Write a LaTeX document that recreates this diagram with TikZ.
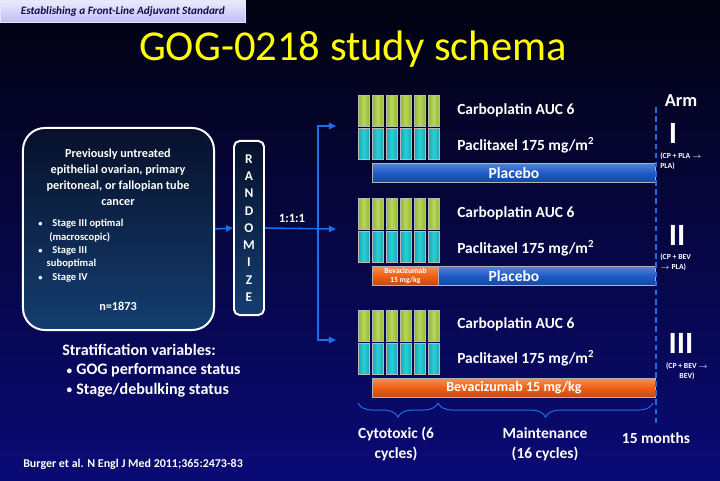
\documentclass[tikz,border=0pt]{standalone}
\usepackage{fontspec}
\setmainfont{Carlito}
\usepackage{tikz}
\usetikzlibrary{arrows.meta}
\usetikzlibrary{calc}
\usetikzlibrary{positioning}
\usetikzlibrary{decorations.pathreplacing}
\definecolor{slidetop}{RGB}{2,2,16}
\definecolor{slidebottom}{RGB}{10,10,118}
\definecolor{titleyellow}{RGB}{255,255,0}
\definecolor{armblue}{RGB}{30,110,235}
\definecolor{placeboblue}{RGB}{30,90,200}
\definecolor{bevorange}{RGB}{240,95,20}
\definecolor{carbogreen}{RGB}{165,205,55}
\definecolor{taxteal}{RGB}{45,195,205}
\definecolor{tablavender}{RGB}{190,190,245}
\definecolor{tabtext}{RGB}{15,15,80}
\definecolor{boxtop}{RGB}{7,16,42}
\definecolor{boxbottom}{RGB}{20,62,112}
\newcommand{\fsz}[1]{\fontsize{#1}{1.2\dimexpr#1pt\relax}\selectfont}
\newcommand{\smallbullet}{{\fontsize{6}{6}\selectfont\textbullet}}

\begin{document}
\begin{tikzpicture}[
    x=0.025cm, y=-0.025cm,
    every node/.style={text=white, font=\bfseries, inner sep=0pt},
    tab box/.style={anchor=north west, minimum width=6.125cm, minimum height=0.55cm,
        top color=white!70!tablavender, bottom color=tablavender, draw=white!60!tablavender,
        text=tabtext, font=\bfseries\itshape\fsz{8}},
    title text/.style={text=titleyellow, font=\fsz{30.3}},
    dark box/.style={draw=white, line width=1.4pt, top color=boxtop, bottom color=boxbottom},
    arrow line/.style={armblue, line width=1.1pt, -{Triangle[length=5pt, width=4.5pt]}},
    green vial/.style={left color=carbogreen!88!black, right color=carbogreen!90!black,
        middle color=carbogreen!80!white, draw=gray!55, line width=0.4pt},
    teal vial/.style={left color=taxteal!82!black, right color=taxteal!85!black,
        middle color=taxteal!75!cyan, draw=gray!55, line width=0.4pt},
    placebo bar/.style={anchor=north west, minimum width=7.075cm, minimum height=0.475cm,
        top color=placeboblue!75!white, bottom color=placeboblue!80!black,
        middle color=placeboblue, draw=gray!60, line width=0.5pt, font=\bfseries\fsz{11}},
    bev bar/.style={anchor=north west, minimum height=0.475cm,
        top color=bevorange!70!white, bottom color=bevorange!80!black,
        middle color=bevorange, draw=gray!60, line width=0.5pt},
    drug text/.style={anchor=west, font=\bfseries\fsz{11}},
    arm numeral/.style={font=\bfseries\fsz{22}},
    arm note/.style={anchor=north west, align=left, font=\bfseries\fsz{5.5}},
    end line/.style={armblue, line width=1.4pt, dash pattern=on 4pt off 2.5pt},
    phase brace/.style={armblue, line width=0.7pt, decorate,
        decoration={brace, amplitude=10pt}},
    phase text/.style={align=center, font=\bfseries\fsz{11}}
    ]

    % slide background
    \fill[top color=slidetop, bottom color=slidebottom] (0,0) rectangle (720,480);
    \useasboundingbox (0,0) rectangle (720,480);

    % header
    \node[tab box] (tab) at (0,0) {Establishing a Front-Line Adjuvant Standard};
    \node[title text] (title) at (353,49) {GOG-0218 study schema};

    % eligible patients
    \node[dark box, rounded corners=0.55cm, minimum width=4.775cm, minimum height=5.05cm]
        (patients) at (118.5,229) {};
    \node[align=center, font=\bfseries\fsz{8.7}] (criteria) at (118,177)
        {Previously untreated\\[1pt]epithelial ovarian, primary\\[1pt]peritoneal, or fallopian tube\\[1pt]cancer};
    \node[anchor=north west, align=left, font=\bfseries\fsz{7.5}] (stages) at (38,219)
        {\makebox[10pt][l]{\smallbullet}Stage III optimal\\[0.5pt]
         \hspace{7.8pt}(macroscopic)\\[0.5pt]
         \makebox[10pt][l]{\smallbullet}Stage III\\[0.5pt]
         \hspace{6pt}suboptimal\\[0.5pt]
         \makebox[10pt][l]{\smallbullet}Stage IV};
    \node[font=\bfseries\fsz{8.7}] (nsize) at (118,306) {n=1873};

    % randomisation
    \node[dark box, rounded corners=4pt, minimum width=0.75cm, minimum height=4.35cm,
        align=center, font=\bfseries\fsz{9.5}] (rand) at (249,228)
        {R\\[0.9pt]A\\[0.9pt]N\\[0.9pt]D\\[0.9pt]O\\[0.9pt]M\\[0.9pt]I\\[0.9pt]Z\\[0.9pt]E};
    \node[font=\bfseries\fsz{9}] (ratio) at (292,218) {1:1:1};

    \coordinate (split) at (318,229);
    \coordinate (armI-in) at (336,126);
    \coordinate (armII-in) at (336,229);
    \coordinate (armIII-in) at (336,340);
    \draw[arrow line] (patients.east) -- (rand.west);
    \draw[arrow line] (rand.east) -- (armII-in);
    \draw[arrow line] (split) |- (armI-in);
    \draw[arrow line] (split) |- (armIII-in);

    % chemotherapy cycles
    \foreach \top in {95,198,310}{
        \foreach \i in {0,...,5}{
            \path[green vial] ({358+14*\i},\top) rectangle +(11,31);
            \path[teal vial] ({358+14*\i},\top+33) rectangle +(11,31);
        }
    }

    % arm I
    \node[drug text] (carboI) at (457,110) {Carboplatin AUC 6};
    \node[drug text] (taxI) at (457,145) {Paclitaxel 175 mg/m\textsuperscript{2}};
    \node[placebo bar] (barI) at (372,163) {Placebo};

    % arm II
    \node[drug text] (carboII) at (457,213) {Carboplatin AUC 6};
    \node[drug text] (taxII) at (457,248) {Paclitaxel 175 mg/m\textsuperscript{2}};
    \node[placebo bar] (barII) at (372,266) {Placebo};
    \node[bev bar, minimum width=1.65cm, align=center, font=\bfseries\fsz{5.5}]
        (bevII) at (372,266) {Bevacizumab\\[-0.5pt]15 mg/kg};

    % arm III
    \node[drug text] (carboIII) at (457,324) {Carboplatin AUC 6};
    \node[drug text] (taxIII) at (457,358) {Paclitaxel 175 mg/m\textsuperscript{2}};
    \node[bev bar, minimum width=7.075cm, font=\bfseries\fsz{10}] (barIII) at (372,378)
        {Bevacizumab 15 mg/kg};

    % 15 month mark
    \coordinate (end-top) at (656,107);
    \coordinate (end-bottom) at (656,425);
    \draw[end line] (end-top) -- (end-bottom);

    % arm labels
    \node[font=\bfseries\fsz{13}] (armhead) at (681,101) {Arm};
    \node[arm numeral] (armI) at (673,133) {I};
    \node[arm note] (noteI) at (660,152) {(CP + PLA $\rightarrow$\\[1pt]PLA)};
    \node[arm numeral] (armII) at (677,235) {II};
    \node[arm note] (noteII) at (660,253) {(CP + BEV\\[1pt]$\rightarrow$ PLA)};
    \node[arm numeral] (armIII) at (681,343) {III};
    \node[arm note, anchor=north, align=center] (noteIII) at (687,362) {(CP + BEV $\rightarrow$\\[1pt]BEV)};

    % treatment phases
    \coordinate (cyto-left) at (358,403);
    \coordinate (cyto-right) at (438,403);
    \coordinate (maint-right) at (653,403);
    \draw[phase brace] (cyto-right) -- (cyto-left);
    \draw[phase brace] (maint-right) -- (cyto-right);
    \node[phase text] (cyto) at (396,444) {Cytotoxic (6\\[1pt]cycles)};
    \node[phase text] (maint) at (545,444) {Maintenance\\[1pt](16 cycles)};
    \node[phase text] (months) at (656,438) {15 months};

    % stratification and reference
    \node[anchor=north west, align=left, font=\bfseries\fsz{11.4}] (strat) at (62,344)
        {Stratification variables:\\[0pt]
         \hspace{3pt}\makebox[7pt][l]{\raisebox{0.5pt}{\fsz{8}\textbullet}}GOG performance status\\[0pt]
         \hspace{3pt}\makebox[7pt][l]{\raisebox{0.5pt}{\fsz{8}\textbullet}}Stage/debulking status};
    \node[anchor=west, font=\bfseries\fsz{8.5}] (source) at (23,464)
        {Burger et al. N Engl J Med 2011;365:2473-83};
\end{tikzpicture}
\end{document}
